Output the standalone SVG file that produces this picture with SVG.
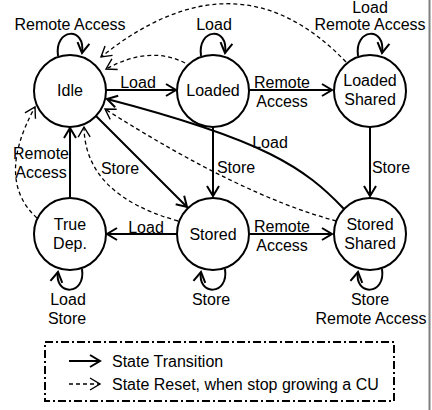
<svg xmlns="http://www.w3.org/2000/svg" width="432" height="410" viewBox="0 0 432 410">
<defs>
<style>
.st{fill:#fff;stroke:#000;stroke-width:2}
.t{font-family:"Liberation Sans",Arial,sans-serif;font-size:16px;fill:#000;text-anchor:middle}
.tl{font-family:"Liberation Sans",Arial,sans-serif;font-size:16px;fill:#000}
.e{fill:none;stroke:#000;stroke-width:2}
.d{fill:none;stroke:#000;stroke-width:1.3;stroke-dasharray:4 3}
</style>
<marker id="ah" markerUnits="userSpaceOnUse" markerWidth="14" markerHeight="16" refX="11" refY="7" orient="auto" viewBox="0 0 14 14">
<path d="M1,1 L11,7 L1,13" fill="none" stroke="#000" stroke-width="2"/>
</marker>
<marker id="ahd" markerUnits="userSpaceOnUse" markerWidth="14" markerHeight="16" refX="11" refY="7" orient="auto" viewBox="0 0 14 14">
<path d="M1,1 L11,7 L1,13" fill="none" stroke="#000" stroke-width="1.4"/>
</marker>
</defs>
<rect width="432" height="410" fill="#fff"/>
<rect x="428.5" y="0" width="2" height="410" fill="#808080"/>

<g id="connectors">
<!-- self loops -->
<path class="e" d="M58,56 C54,28 86,26 82,53" marker-end="url(#ah)"/>
<path class="e" d="M201,56 C197,28 229,26 225,53" marker-end="url(#ah)"/>
<path class="e" d="M358,56 C354,28 386,26 382,53" marker-end="url(#ah)"/>
<path class="e" d="M82,269 C86,296 54,296 58,272" marker-end="url(#ah)"/>
<path class="e" d="M225,269 C229,296 197,296 201,272" marker-end="url(#ah)"/>
<path class="e" d="M382,269 C386,296 354,296 358,272" marker-end="url(#ah)"/>
<!-- solid transitions -->
<path class="e" d="M106,90 L176,90" marker-end="url(#ah)"/>
<path class="e" d="M249,90 L332,90" marker-end="url(#ah)"/>
<path class="e" d="M370,127 L370,196" marker-end="url(#ah)"/>
<path class="e" d="M213,127 L213,196" marker-end="url(#ah)"/>
<path class="e" d="M177,234 L107,234" marker-end="url(#ah)"/>
<path class="e" d="M249,234 L332,234" marker-end="url(#ah)"/>
<path class="e" d="M70,197 L70,128" marker-end="url(#ah)"/>
<path class="e" d="M96,116 L187,207" marker-end="url(#ah)"/>
<path class="e" d="M344,209 C305,168 265,140 107,99" marker-end="url(#ah)"/>
<!-- dashed resets -->
<path class="d" d="M346,62 Q237,-52 101,57" marker-end="url(#ahd)"/>
<path class="d" d="M185,63 Q150,45 106,69" marker-end="url(#ahd)"/>
<path class="d" d="M336,221 Q240,195 105,109" marker-end="url(#ahd)"/>
<path class="d" d="M178,221 Q85,195 84,127" marker-end="url(#ahd)"/>
<path class="d" d="M37,218 Q-5,180 35,107" marker-end="url(#ahd)"/>
</g>

<g id="idle"><circle class="st" cx="70" cy="91" r="36"/><text class="t" x="70" y="96">Idle</text></g>
<g id="loaded"><circle class="st" cx="213" cy="91" r="36"/><text class="t" x="213" y="96">Loaded</text></g>
<g id="loaded-shared"><circle class="st" cx="370" cy="91" r="36"/><text class="t" x="370" y="86">Loaded</text><text class="t" x="370" y="105">Shared</text></g>
<g id="true-dep"><circle class="st" cx="70" cy="234" r="36"/><text class="t" x="70" y="230">True</text><text class="t" x="70" y="249">Dep.</text></g>
<g id="stored"><circle class="st" cx="213" cy="234" r="36"/><text class="t" x="213" y="240">Stored</text></g>
<g id="stored-shared"><circle class="st" cx="370" cy="234" r="36"/><text class="t" x="370" y="230">Stored</text><text class="t" x="370" y="249">Shared</text></g>

<g id="labels">
<text class="t" x="70" y="30">Remote Access</text>
<text class="t" x="214" y="30">Load</text>
<text class="t" x="370" y="13">Load</text>
<text class="t" x="370" y="30">Remote Access</text>
<text class="t" x="138" y="88">Load</text>
<text class="t" x="282" y="88">Remote</text>
<text class="t" x="282" y="107">Access</text>
<text class="t" x="391" y="173">Store</text>
<text class="t" x="236" y="173">Store</text>
<text class="t" x="270" y="148">Load</text>
<text class="t" x="120" y="174">Store</text>
<text class="t" x="41" y="159">Remote</text>
<text class="t" x="41" y="178">Access</text>
<text class="t" x="146" y="233">Load</text>
<text class="t" x="282" y="232">Remote</text>
<text class="t" x="282" y="251">Access</text>
<text class="t" x="68" y="305">Load</text>
<text class="t" x="67" y="324">Store</text>
<text class="t" x="211" y="305">Store</text>
<text class="t" x="370" y="305">Store</text>
<text class="t" x="371" y="324">Remote Access</text>
</g>

<g id="legend">
<rect x="45" y="342" width="349" height="59" fill="none" stroke="#000" stroke-width="2" stroke-dasharray="8 3 2 3"/>
<path class="e" d="M69,361 L100,361" marker-end="url(#ah)"/>
<path class="d" d="M69,384 L100,384" marker-end="url(#ahd)"/>
<text class="tl" x="112" y="367">State Transition</text>
<text class="tl" x="112" y="390">State Reset, when stop growing a CU</text>
</g>
</svg>
